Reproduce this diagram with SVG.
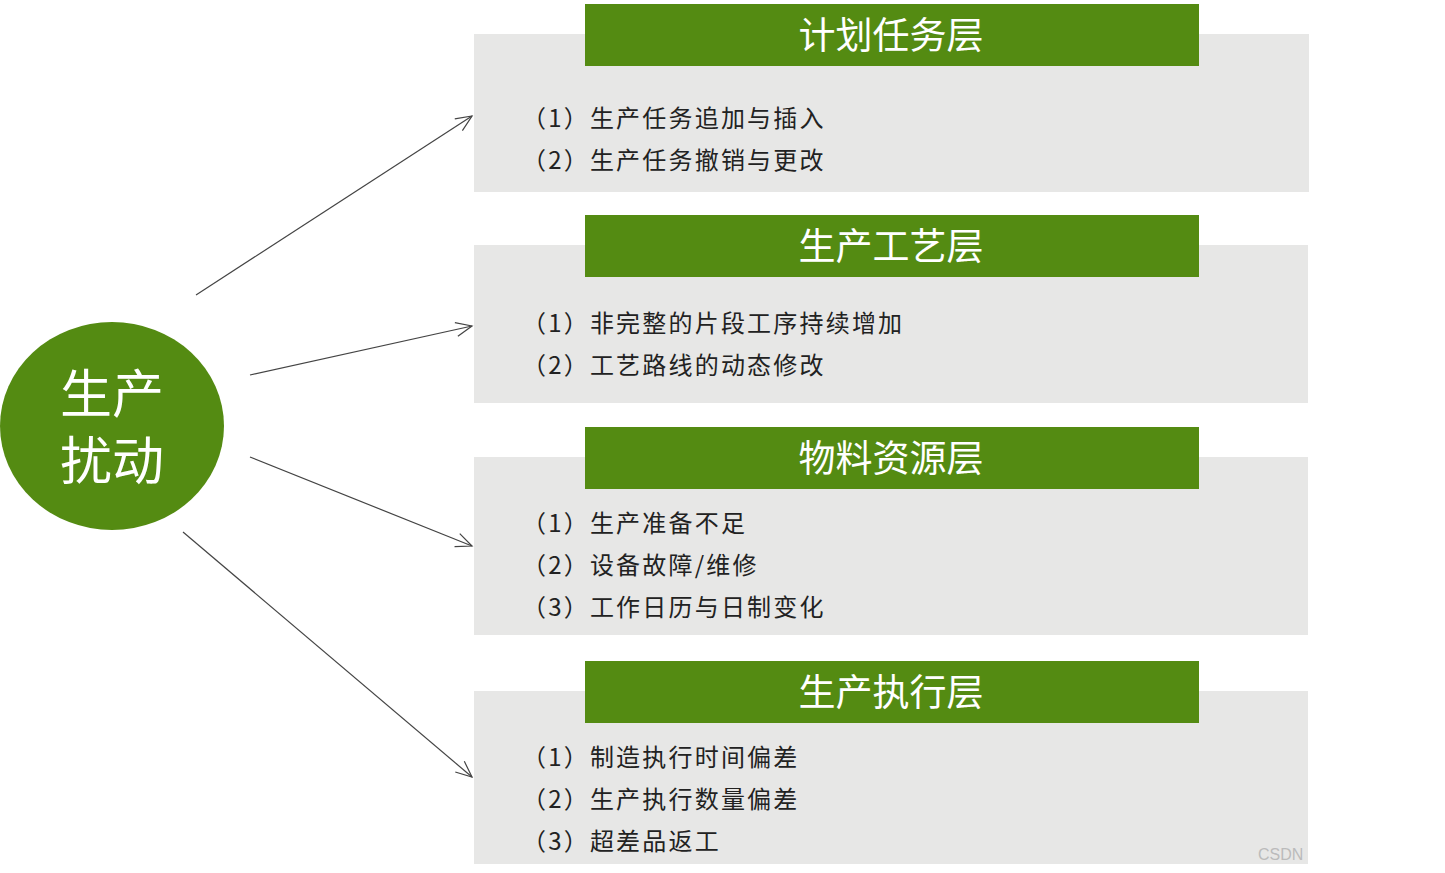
<svg xmlns="http://www.w3.org/2000/svg" width="1445" height="873" viewBox="0 0 1445 873">
<defs>
<style>
.box{fill:#E7E7E6}
.hd{fill:#548B12}
.ht{fill:#fff;font-family:"Noto Sans CJK SC",sans-serif;font-size:37px;text-anchor:middle}
.it{fill:#222;font-family:"Noto Sans CJK SC",sans-serif;font-size:24px;letter-spacing:2.2px}
.ln{stroke:#444;stroke-width:1.2;fill:none}
</style>
<marker id="ar" markerWidth="20" markerHeight="16" refX="18" refY="8" orient="auto" markerUnits="userSpaceOnUse">
<path d="M2,1 L18,8 L2,15" fill="none" stroke="#444" stroke-width="1.2"/>
</marker>
</defs>
<rect width="1445" height="873" fill="#fff"/>
<g id="center">
<ellipse cx="112" cy="426" rx="112" ry="104" fill="#548B12"/>
<text x="112" y="413" fill="#fff" font-family="Noto Sans CJK SC,sans-serif" font-size="52" text-anchor="middle">生产</text>
<text x="112" y="480" fill="#fff" font-family="Noto Sans CJK SC,sans-serif" font-size="52" text-anchor="middle">扰动</text>
</g>
<g id="connectors">
<line class="ln" x1="196" y1="295" x2="472" y2="116" marker-end="url(#ar)"/>
<line class="ln" x1="250" y1="375" x2="472" y2="326" marker-end="url(#ar)"/>
<line class="ln" x1="250" y1="457" x2="472" y2="546" marker-end="url(#ar)"/>
<line class="ln" x1="183" y1="532" x2="472" y2="777" marker-end="url(#ar)"/>
</g>
<g id="layer1">
<rect class="box" x="474" y="34" width="835" height="158"/>
<rect class="hd" x="585" y="4" width="614" height="62"/>
<text class="ht" x="891" y="49">计划任务层</text>
<text class="it" x="522" y="127">（1）生产任务追加与插入</text>
<text class="it" x="522" y="169">（2）生产任务撤销与更改</text>
</g>
<g id="layer2">
<rect class="box" x="474" y="245" width="834" height="158"/>
<rect class="hd" x="585" y="215" width="614" height="62"/>
<text class="ht" x="891" y="260">生产工艺层</text>
<text class="it" x="522" y="332">（1）非完整的片段工序持续增加</text>
<text class="it" x="522" y="374">（2）工艺路线的动态修改</text>
</g>
<g id="layer3">
<rect class="box" x="474" y="457" width="834" height="178"/>
<rect class="hd" x="585" y="427" width="614" height="62"/>
<text class="ht" x="891" y="472">物料资源层</text>
<text class="it" x="522" y="532">（1）生产准备不足</text>
<text class="it" x="522" y="574">（2）设备故障/维修</text>
<text class="it" x="522" y="616">（3）工作日历与日制变化</text>
</g>
<g id="layer4">
<rect class="box" x="474" y="691" width="834" height="173"/>
<rect class="hd" x="585" y="661" width="614" height="62"/>
<text class="ht" x="891" y="706">生产执行层</text>
<text class="it" x="522" y="766">（1）制造执行时间偏差</text>
<text class="it" x="522" y="808">（2）生产执行数量偏差</text>
<text class="it" x="522" y="850">（3）超差品返工</text>
</g>
<text x="1258" y="860" fill="#bbb" font-family="Liberation Sans,sans-serif" font-size="16">CSDN</text>
</svg>
